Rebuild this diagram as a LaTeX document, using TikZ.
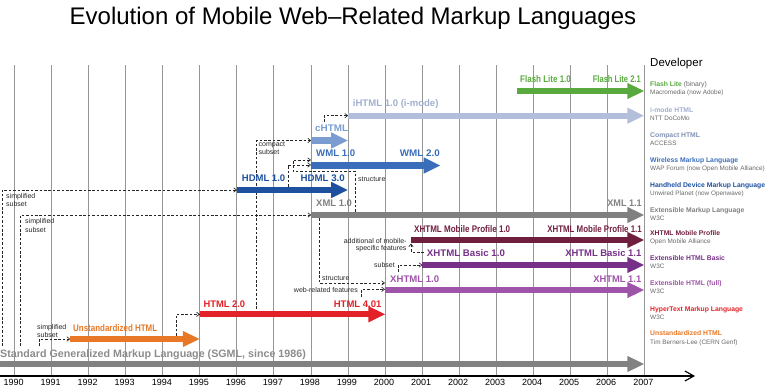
\documentclass[tikz,border=0pt]{standalone}
\usepackage{fontspec}
\usepackage{graphicx}
\setmainfont{Liberation Sans}
\usetikzlibrary{arrows.meta}
\newcommand\lw[2]{\resizebox{#1pt}{\height}{#2}}
\definecolor{cFlash}{RGB}{88,170,62}
\definecolor{cIhtml}{RGB}{178,190,218}
\definecolor{cIhtmlT}{RGB}{160,174,208}
\definecolor{cChtml}{RGB}{122,156,208}
\definecolor{cChtmlD}{RGB}{128,145,180}
\definecolor{cWml}{RGB}{58,110,186}
\definecolor{cHdml}{RGB}{30,80,160}
\definecolor{cXml}{RGB}{128,128,128}
\definecolor{cMp}{RGB}{112,30,62}
\definecolor{cBasic}{RGB}{118,48,136}
\definecolor{cXhtml}{RGB}{158,84,168}
\definecolor{cHtml}{RGB}{226,34,40}
\definecolor{cUnst}{RGB}{232,120,38}
\definecolor{cSgml}{RGB}{130,130,130}
\definecolor{cSgmlT}{RGB}{140,140,140}
\definecolor{cGrid}{RGB}{150,150,150}
\definecolor{cOrg}{RGB}{105,105,105}
\tikzset{
  gridline/.style={draw=cGrid, line width=0.8pt},
  langbar/.style={line width=6.3pt, -{Triangle[length=17pt,width=15pt]}},
  barlab/.style={inner sep=0pt, font=\fontsize{9.6}{10}\selectfont\bfseries},
  devname/.style={anchor=base west, inner sep=0pt, font=\fontsize{6.8}{7}\selectfont\bfseries},
  devorg/.style={anchor=base west, inner sep=0pt, font=\fontsize{6.4}{7}\selectfont, text=cOrg},
  note/.style={inner sep=0pt, font=\fontsize{7}{8}\selectfont, text=black!85},
  conn/.style={draw=black!85, line width=0.65pt, dash pattern=on 2.6pt off 1.8pt, -{Straight Barb[length=2.8pt,width=4.4pt]}},
  yearlab/.style={anchor=base, inner sep=0pt, font=\fontsize{9}{10}\selectfont}
}
\begin{document}
\begin{tikzpicture}[x=1pt,y=-1pt]
\useasboundingbox (0,0) rectangle (768,387);
% title
\node[anchor=base, inner sep=0pt, font=\fontsize{24}{26}\selectfont] (title) at (353,25) {Evolution of Mobile Web–Related Markup Languages};
\node[anchor=base west, inner sep=0pt, font=\fontsize{11.5}{12}\selectfont] (dev) at (650,67) {Developer};
% grid and years
\foreach \i in {0,...,17}{
  \pgfmathsetmacro{\xx}{14.6+\i*37.04}
  \pgfmathtruncatemacro{\yr}{1990+\i}
  \coordinate (gt\i) at (\xx,65);
  \coordinate (gb\i) at (\xx,376);
  \draw[gridline] (gt\i) -- (gb\i);
  \node[yearlab] (yr\i) at ({\xx-1},385.5) {\yr};
}
% axis
\coordinate (axs) at (0,376);
\coordinate (axe) at (695,376);
\draw[line width=1.1pt, -{Straight Barb[length=9pt,width=10pt]}] (axs) -- (axe);
% bar end points
\coordinate (flash-s) at (517,91);     \coordinate (flash-e) at (644.3,91);
\coordinate (ihtml-s) at (348.1,115.7); \coordinate (ihtml-e) at (644.3,115.7);
\coordinate (chtml-s) at (311.2,140.5); \coordinate (chtml-e) at (348.1,140.5);
\coordinate (wml-s) at (311.2,165.5);   \coordinate (wml-e) at (440.6,165.5);
\coordinate (hdml-s) at (237,190);      \coordinate (hdml-e) at (348.1,190);
\coordinate (xml-s) at (311.2,215);     \coordinate (xml-e) at (644.3,215);
\coordinate (mp-s) at (411,240);        \coordinate (mp-e) at (644.3,240);
\coordinate (basic-s) at (422.4,265);   \coordinate (basic-e) at (644.3,265);
\coordinate (xhtml-s) at (385.4,290);   \coordinate (xhtml-e) at (644.3,290);
\coordinate (html-s) at (199.8,314.3);  \coordinate (html-e) at (385.4,314.3);
\coordinate (unst-s) at (70.2,339);     \coordinate (unst-e) at (199.8,339);
\coordinate (sgml-s) at (0,364);        \coordinate (sgml-e) at (644.3,364);
% connector points
\coordinate (c1a) at (2,346);
\coordinate (c2a) at (20.7,346);
\coordinate (c3a) at (39,346);
\coordinate (c4a) at (176,335.7);
\coordinate (c5a) at (256.5,309);
\coordinate (c6a) at (324,122);
\coordinate (c7a) at (288,186.7);
\coordinate (c8a) at (355,211.7);
\coordinate (c8m) at (293,171.5);
\coordinate (wml-in1) at (311,160);
\coordinate (wml-in2) at (311,165);
\coordinate (c9a) at (319,218.3);
\coordinate (xhtml-in1) at (385,283);
\coordinate (c10a) at (361.7,297);
\coordinate (xhtml-in2) at (385,289.3);
\coordinate (c11a) at (398,272);
\coordinate (c12a) at (424,252);
\coordinate (mp-in) at (411,243.5);
% connectors
\draw[conn] (c1a) |- (hdml-s);
\draw[conn] (c2a) |- (xml-s);
\draw[conn] (c3a) |- (unst-s);
\draw[conn] (c4a) |- (html-s);
\draw[conn] (c5a) |- (chtml-s);
\draw[conn] (c6a) |- (ihtml-s);
\draw[conn] (c7a) |- (wml-in2);
\draw[conn] (c8a) |- (c8m) |- (wml-in1);
\draw[conn] (c9a) |- (xhtml-in1);
\draw[conn] (c10a) |- (xhtml-in2);
\draw[conn] (c11a) |- (basic-s);
\draw[conn] (c12a) -| (mp-in);
% bars
\draw[langbar, cFlash] (flash-s) -- (flash-e);
\draw[langbar, cIhtml] (ihtml-s) -- (ihtml-e);
\draw[langbar, cChtml] (chtml-s) -- (chtml-e);
\draw[langbar, cWml] (wml-s) -- (wml-e);
\draw[langbar, cHdml] (hdml-s) -- (hdml-e);
\draw[langbar, cXml] (xml-s) -- (xml-e);
\draw[langbar, cMp] (mp-s) -- (mp-e);
\draw[langbar, cBasic] (basic-s) -- (basic-e);
\draw[langbar, cXhtml] (xhtml-s) -- (xhtml-e);
\draw[langbar, cHtml] (html-s) -- (html-e);
\draw[langbar, cUnst] (unst-s) -- (unst-e);
\draw[langbar, cSgml] (sgml-s) -- (sgml-e);
% bar labels
\node[barlab, anchor=base west, text=cFlash] (l-fl1) at (520,83) {\lw{50.7}{Flash Lite 1.0}};
\node[barlab, anchor=base east, text=cFlash] (l-fl2) at (641,83) {\lw{48}{Flash Lite 2.1}};
\node[barlab, anchor=base west, text=cIhtmlT] (l-ih) at (352.7,107) {\lw{85.6}{iHTML 1.0 (i-mode)}};
\node[barlab, anchor=base west, text=cChtml] (l-ch) at (315,131.7) {\lw{33}{cHTML}};
\node[barlab, anchor=base west, text=cWml] (l-w1) at (316,156.5) {\lw{39}{WML 1.0}};
\node[barlab, anchor=base east, text=cWml] (l-w2) at (440,156.5) {\lw{40}{WML 2.0}};
\node[barlab, anchor=base west, text=cHdml] (l-h1) at (241.7,181.7) {\lw{43.3}{HDML 1.0}};
\node[barlab, anchor=base east, text=cHdml] (l-h3) at (345,181.7) {\lw{44.3}{HDML 3.0}};
\node[barlab, anchor=base west, text=cXml] (l-x1) at (316,206.5) {\lw{35.7}{XML 1.0}};
\node[barlab, anchor=base east, text=cXml] (l-x2) at (642,206.5) {\lw{34.5}{XML 1.1}};
\node[barlab, anchor=base west, text=cMp] (l-m1) at (414,232.5) {\lw{96}{XHTML Mobile Profile 1.0}};
\node[barlab, anchor=base east, text=cMp] (l-m2) at (642,232.5) {\lw{94.5}{XHTML Mobile Profile 1.1}};
\node[barlab, anchor=base west, text=cBasic] (l-b1) at (426.7,256.7) {\lw{78}{XHTML Basic 1.0}};
\node[barlab, anchor=base east, text=cBasic] (l-b2) at (641.5,256.7) {\lw{76}{XHTML Basic 1.1}};
\node[barlab, anchor=base west, text=cXhtml] (l-xh1) at (390,282.5) {\lw{49}{XHTML 1.0}};
\node[barlab, anchor=base east, text=cXhtml] (l-xh2) at (641.5,282.5) {\lw{48}{XHTML 1.1}};
\node[barlab, anchor=base west, text=cHtml] (l-ht1) at (203.3,307.8) {\lw{41.7}{HTML 2.0}};
\node[barlab, anchor=base east, text=cHtml] (l-ht2) at (381.7,307.8) {\lw{47.7}{HTML 4.01}};
\node[barlab, anchor=base west, text=cUnst] (l-un) at (73,331.7) {\lw{84}{Unstandardized HTML}};
\node[anchor=base west, inner sep=0pt, font=\fontsize{10.7}{11}\selectfont\bfseries, text=cSgmlT] (l-sg) at (0,357) {Standard Generalized Markup Language (SGML, since 1986)};
% notes
\node[note, anchor=base west] (n1a) at (6,198.5) {simplified};
\node[note, anchor=base west] (n1b) at (6,207) {subset};
\node[note, anchor=base west] (n2a) at (25,224) {simplified};
\node[note, anchor=base west] (n2b) at (25,233) {subset};
\node[note, anchor=base west] (n3a) at (37,329.5) {simplified};
\node[note, anchor=base west] (n3b) at (37,337) {subset};
\node[note, anchor=base west] (n4a) at (258.5,147) {compact};
\node[note, anchor=base west] (n4b) at (258.5,154.5) {subset};
\node[note, anchor=base west] (n5) at (358,181.5) {structure};
\node[note, anchor=base west] (n6) at (322,280) {structure};
\node[note, anchor=base east] (n7) at (358,292.5) {web-related features};
\node[note, anchor=base east] (n8) at (395,267.5) {subset};
\node[note, anchor=base east] (n9a) at (406.7,243.2) {additional of mobile-};
\node[note, anchor=base east] (n9b) at (406.7,250.8) {specific features};
% developer column
\node[devname, text=cFlash] (d1) at (650,86.7) {Flash Lite \textmd{\textcolor{cOrg}{(binary)}}};
\node[devorg] (o1) at (650,95) {Macromedia (now Adobe)};
\node[devname, text=cIhtmlT] (d2) at (650,112.4) {i-mode HTML};
\node[devorg] (o2) at (650,120.7) {NTT DoCoMo};
\node[devname, text=cChtmlD] (d3) at (650,137.4) {Compact HTML};
\node[devorg] (o3) at (650,145.7) {ACCESS};
\node[devname, text=cWml] (d4) at (650,162.4) {Wireless Markup Language};
\node[devorg] (o4) at (650,170.7) {WAP Forum (now Open Mobile Alliance)};
\node[devname, text=cHdml] (d5) at (650,187.4) {Handheld Device Markup Language};
\node[devorg] (o5) at (650,195.7) {Unwired Planet (now Openwave)};
\node[devname, text=cXml] (d6) at (650,212.4) {Extensible Markup Language};
\node[devorg] (o6) at (650,220.7) {W3C};
\node[devname, text=cMp] (d7) at (650,235.7) {XHTML Mobile Profile};
\node[devorg] (o7) at (650,244) {Open Mobile Alliance};
\node[devname, text=cBasic] (d8) at (650,260.7) {Extensible HTML Basic};
\node[devorg] (o8) at (650,269) {W3C};
\node[devname, text=cXhtml] (d9) at (650,285.7) {Extensible HTML (full)};
\node[devorg] (o9) at (650,294) {W3C};
\node[devname, text=cHtml] (d10) at (650,311.4) {HyperText Markup Language};
\node[devorg] (o10) at (650,319.7) {W3C};
\node[devname, text=cUnst] (d11) at (650,335.7) {Unstandardized HTML};
\node[devorg] (o11) at (650,344) {Tim Berners-Lee (CERN Genf)};
\end{tikzpicture}
\end{document}
